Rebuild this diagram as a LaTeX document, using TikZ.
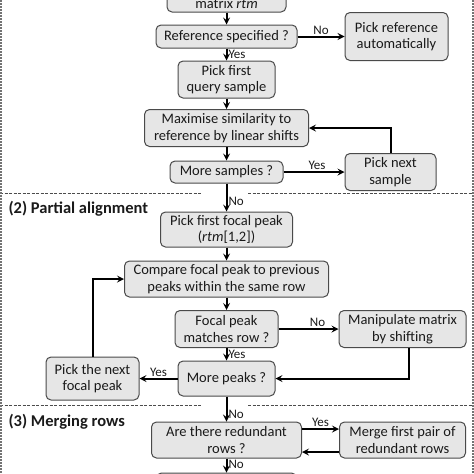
\documentclass[tikz,border=0pt]{standalone}
\usepackage{fontspec}
\setmainfont{Carlito}
\usepackage{xcolor}
\usetikzlibrary{positioning}

\definecolor{boxfill}{HTML}{E6E6E6}
\definecolor{boxline}{HTML}{4A4A4A}
\definecolor{inktext}{HTML}{1A1A1A}

\begin{document}
\begin{tikzpicture}[
    x=1pt, y=1pt,
    box/.style={rectangle, draw=boxline, fill=boxfill, rounded corners=5pt, line width=1pt, align=center, text=inktext, font=\fontsize{14.5}{16.5}\selectfont, inner xsep=3pt, inner ysep=1pt},
    arrow/.style={->, >=stealth, line width=2pt},
    tag/.style={font=\fontsize{13}{14}\selectfont, text=inktext, inner sep=1pt},
    section/.style={font=\fontsize{16.5}{18}\selectfont\bfseries, text=inktext, anchor=west},
    sepline/.style={draw=black!70, line width=0.9pt, dash pattern=on 3pt off 1.5pt},
    frameline/.style={draw=black!55, line width=2.5pt, dash pattern=on 2pt off 1pt}
]
\path[use as bounding box, clip] (0,0) rectangle (474,-474);

% Stage 1 nodes
\node[box, minimum width=141pt, minimum height=23pt] (refspec) at (226.5,-36.5) {Reference specified ?};
\node[box, above=12pt of refspec, minimum width=119pt, text height=22pt, text depth=2.5pt] (rtm) {matrix \textit{rtm}};
\node[box, right=47pt of refspec, minimum width=103pt, minimum height=48pt] (autoref) {Pick reference\\automatically};
\node[box, minimum width=97pt, minimum height=37pt] (firstquery) at (226.5,-79.5) {Pick first\\query sample};
\node[box, minimum width=164pt, minimum height=37pt] (maxsim) at (226.5,-128) {Maximise similarity to\\reference by linear shifts};
\node[box, minimum width=113pt, minimum height=22pt] (moresamples) at (226.5,-172) {More samples ?};
\node[box, right=61pt of moresamples, minimum width=91pt, minimum height=37pt] (nextsample) {Pick next\\sample};

% Stage 2 nodes
\node[box, minimum width=132pt, minimum height=35pt] (firstpeak) at (226.5,-229.5) {Pick first focal peak\\(\textit{rtm}[1,2])};
\node[box, minimum width=204pt, minimum height=36pt] (compare) at (226.5,-279) {Compare focal peak to previous\\peaks within the same row};
\node[box, minimum width=103pt, minimum height=37pt] (matchrow) at (226.5,-329) {Focal peak\\matches row ?};
\node[box, right=60pt of matchrow, minimum width=127pt, minimum height=37pt] (shiftmatrix) {Manipulate matrix\\by shifting};
\node[box, minimum width=97pt, minimum height=35pt] (morepeaks) at (226.5,-378.5) {More peaks ?};
\node[box, left=38pt of morepeaks, minimum width=93pt, minimum height=43pt] (nextpeak) {Pick the next\\focal peak};

% Stage 3 nodes
\node[box, minimum width=150pt, minimum height=36pt] (redundant) at (226.5,-440) {Are there redundant\\rows ?};
\node[box, right=37pt of redundant, minimum width=126pt, minimum height=36pt] (mergerows) {Merge first pair of\\redundant rows};
\node[box, below=14pt of redundant, minimum width=140pt, minimum height=30pt] (nextstep) {};

% Section titles
\node[section] (sec2) at (5,-209) {(2) Partial alignment};
\node[section] (sec3) at (5,-422) {(3) Merging rows};

% Arrows
\draw[arrow] (rtm) -- (refspec);
\draw[arrow] (refspec) -- node[tag, above] {No} (autoref);
\draw[arrow] (refspec) -- node[tag, right] {Yes} (firstquery);
\draw[arrow] (firstquery) -- (maxsim);
\draw[arrow] (maxsim) -- (moresamples);
\draw[arrow] (moresamples) -- node[tag, above, pos=0.55] {Yes} (nextsample);
\draw[arrow] (nextsample.north) |- (maxsim.east);
\draw[arrow] (moresamples) -- node[tag, right, pos=0.65] {No} (firstpeak);
\draw[arrow] (firstpeak) -- (compare);
\draw[arrow] (compare) -- (matchrow);
\draw[arrow] (matchrow) -- node[tag, above, pos=0.65] {No} (shiftmatrix);
\draw[arrow] (matchrow) -- node[tag, right] {Yes} (morepeaks);
\draw[arrow] ([xshift=6pt]shiftmatrix.south) |- (morepeaks.east);
\draw[arrow] (morepeaks) -- node[tag, above] {Yes} (nextpeak);
\draw[arrow] (nextpeak.north) |- (compare.west);
\draw[arrow] (morepeaks) -- node[tag, right, pos=0.7] {No} (redundant);
\draw[arrow] ([yshift=11pt]redundant.east) -- node[tag, above] {Yes} ([yshift=11pt]mergerows.west);
\draw[arrow] ([yshift=-12pt]mergerows.west) -- ([yshift=-12pt]redundant.east);
\draw[arrow] (redundant) -- node[tag, right, pos=0.4] {No} (nextstep);

% Separators and frame
\draw[sepline] (0,-193) -- (202,-193);
\draw[sepline] (248,-193) -- (474,-193);
\draw[sepline] (0,-405) -- (202,-405);
\draw[sepline] (248,-405) -- (474,-405);
\draw[frameline] (1.2,0) -- (1.2,-474);
\draw[frameline] (472.8,0) -- (472.8,-474);

\end{tikzpicture}
\end{document}
